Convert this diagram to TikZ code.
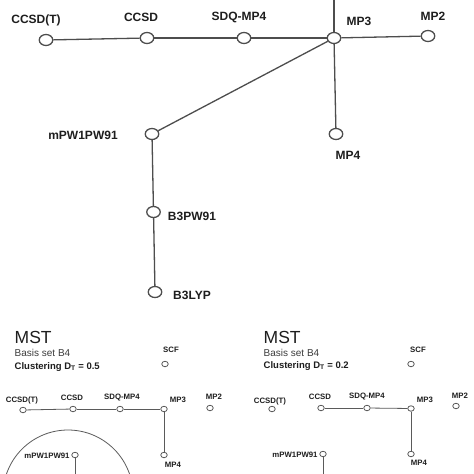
\documentclass[tikz,border=0pt]{standalone}
\usepackage{fontspec}
\setmainfont{Liberation Sans}
\usetikzlibrary{shapes.geometric}
\definecolor{edgegray}{HTML}{4D4D4D}
\definecolor{lightedge}{HTML}{5A5A5A}
\definecolor{txt}{HTML}{1E1E1E}
\definecolor{subtxt}{HTML}{3C3C3C}
\begin{document}
\begin{tikzpicture}[x=1pt,y=-1pt,
  bigvert/.style={ellipse,draw=edgegray,line width=1.3pt,fill=white,minimum width=13.5pt,minimum height=11pt,inner sep=0pt},
  smallvert/.style={ellipse,draw=lightedge,line width=0.8pt,fill=white,minimum width=6.5pt,minimum height=5.5pt,inner sep=0pt},
  biglabel/.style={text=txt,font=\fontsize{12}{14}\selectfont\bfseries,inner sep=0pt},
  smalllabel/.style={text=txt,font=\fontsize{7.8}{9}\selectfont\bfseries,inner sep=0pt},
  titletext/.style={text=txt,font=\fontsize{17.5}{20}\selectfont,inner sep=0pt,anchor=west},
  basistext/.style={text=subtxt,font=\fontsize{10}{12}\selectfont,inner sep=0pt,anchor=west},
  clustertext/.style={text=txt,font=\fontsize{9.5}{11}\selectfont\bfseries,inner sep=0pt,anchor=west},
  bigedge/.style={draw=edgegray,line width=1.3pt},
  smalledge/.style={draw=lightedge,line width=0.8pt},
]
\useasboundingbox (0,0) rectangle (474,474);
\fill[white] (0,0) rectangle (474,474);

% ---------- top diagram ----------
\node[bigvert] (ccsdt) at (46,40) {};
\node[bigvert] (ccsd) at (147,38) {};
\node[bigvert] (sdq) at (244,38) {};
\node[bigvert] (mp3) at (334,38) {};
\node[bigvert] (mp2) at (428,36) {};
\node[bigvert] (mp4) at (336,134) {};
\node[bigvert] (mpw) at (152,134) {};
\node[bigvert] (b3pw) at (153.5,212) {};
\node[bigvert] (b3lyp) at (155,292) {};
\coordinate (mp3top) at (334,0);

\node[biglabel] (lccsdt) at (36,20) {CCSD(T)};
\node[biglabel] (lccsd) at (141,17) {CCSD};
\node[biglabel] (lsdq) at (239,17) {SDQ-MP4};
\node[biglabel] (lmp3) at (359,21) {MP3};
\node[biglabel] (lmp2) at (433,16) {MP2};
\node[biglabel] (lmp4) at (348,155) {MP4};
\node[biglabel] (lmpw) at (83,135) {mPW1PW91};
\node[biglabel] (lb3pw) at (192,216) {B3PW91};
\node[biglabel] (lb3lyp) at (192,295) {B3LYP};

\draw[bigedge] (ccsdt) -- (ccsd);
\draw[bigedge] (ccsd) -- (sdq);
\draw[bigedge] (sdq) -- (mp3);
\draw[bigedge] (mp3) -- (mp2);
\draw[bigedge] (mp3top) -- (mp3);
\draw[bigedge] (mp3) -- (mp4);
\draw[bigedge] (mp3) -- (mpw);
\draw[bigedge] (mpw) -- (b3pw);
\draw[bigedge] (b3pw) -- (b3lyp);

% ---------- bottom-left panel ----------
\node[titletext] (mstA) at (14.5,337) {MST};
\node[basistext] (basisA) at (14.5,353) {Basis set B4};
\node[clustertext] (clA) at (14.5,367) {Clustering D\textsubscript{T} = 0.5};

\node[smallvert] (scfA) at (165,364) {};
\node[smallvert] (ccsdtA) at (23,410) {};
\node[smallvert] (ccsdA) at (73,409) {};
\node[smallvert] (sdqA) at (120,409) {};
\node[smallvert] (mp3A) at (164,409) {};
\node[smallvert] (mp2A) at (210,408) {};
\node[smallvert] (mp4A) at (164,455) {};
\node[smallvert] (mpwA) at (75,455) {};
\coordinate (mpwAend) at (75,474);

\node[smalllabel] (lscfA) at (171,350) {SCF};
\node[smalllabel] (lccsdtA) at (22,400) {CCSD(T)};
\node[smalllabel] (lccsdA) at (72,398) {CCSD};
\node[smalllabel] (lsdqA) at (122,398) {SDQ-MP4};
\node[smalllabel] (lmp3A) at (178,400) {MP3};
\node[smalllabel] (lmp2A) at (214,397) {MP2};
\node[smalllabel] (lmp4A) at (173,465) {MP4};
\node[smalllabel] (lmpwA) at (47,456) {mPW1PW91};

\draw[smalledge] (ccsdtA) -- (ccsdA);
\draw[smalledge] (ccsdA) -- (sdqA);
\draw[smalledge] (sdqA) -- (mp3A);
\draw[smalledge] (mp3A) -- (mp4A);
\draw[smalledge] (mpwA) -- (mpwAend);

\begin{scope}
\clip (0,0) rectangle (474,474);
\draw[smalledge] (68,495) circle[radius=65pt];
\end{scope}

% ---------- bottom-right panel ----------
\node[titletext] (mstB) at (263.5,337) {MST};
\node[basistext] (basisB) at (263.5,353) {Basis set B4};
\node[clustertext] (clB) at (263.5,366) {Clustering D\textsubscript{T} = 0.2};

\node[smallvert] (scfB) at (411,364) {};
\node[smallvert] (ccsdtB) at (272,409) {};
\node[smallvert] (ccsdB) at (321,408) {};
\node[smallvert] (sdqB) at (367,408) {};
\node[smallvert] (mp3B) at (411,408.5) {};
\node[smallvert] (mp2B) at (456,406) {};
\node[smallvert] (mp4B) at (411,454) {};
\node[smallvert] (mpwB) at (323,454) {};
\coordinate (mpwBend) at (323,474);

\node[smalllabel] (lscfB) at (418,350) {SCF};
\node[smalllabel] (lccsdtB) at (270,401) {CCSD(T)};
\node[smalllabel] (lccsdB) at (320,397) {CCSD};
\node[smalllabel] (lsdqB) at (367,397) {SDQ-MP4};
\node[smalllabel] (lmp3B) at (425,400) {MP3};
\node[smalllabel] (lmp2B) at (460,396) {MP2};
\node[smalllabel] (lmp4B) at (419,463) {MP4};
\node[smalllabel] (lmpwB) at (295,455) {mPW1PW91};

\draw[smalledge] (ccsdB) -- (sdqB);
\draw[smalledge] (sdqB) -- (mp3B);
\draw[smalledge] (mp3B) -- (mp4B);
\draw[smalledge] (mpwB) -- (mpwBend);
\end{tikzpicture}
\end{document}
